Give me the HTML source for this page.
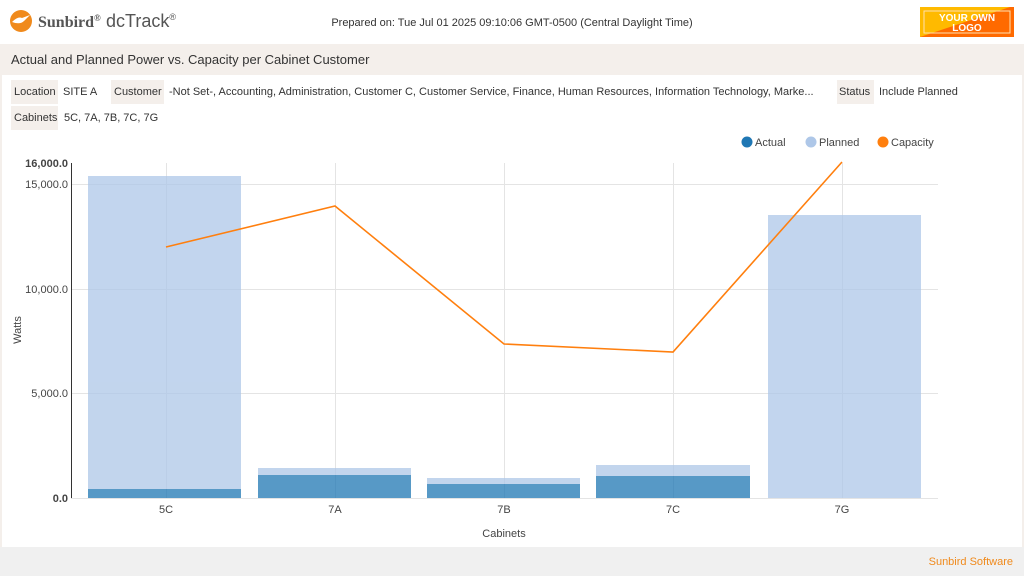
<!DOCTYPE html>
<html><head><meta charset="utf-8"><style>
body{margin:0;width:1024px;height:576px;overflow:hidden;background:#fff;font-family:"Liberation Sans",sans-serif;}
</style></head><body>
<svg width="1024" height="576" viewBox="0 0 1024 576" xmlns="http://www.w3.org/2000/svg" font-family="Liberation Sans, sans-serif">
<rect x="0" y="0" width="1024" height="576" fill="#fff"/>
<!-- header -->
<circle cx="21" cy="21" r="11" fill="#f08a1c"/>
<path d="M12 22 Q18 16 22 18 L30 15 L24 21 Q20 25 12 22Z" fill="#fff"/>
<text x="38" y="27" font-family="Liberation Serif, serif" font-size="16" font-weight="bold" fill="#555">Sunbird<tspan font-size="9" dy="-6">®</tspan></text>
<text x="106" y="27" font-size="18" fill="#555">dcTrack<tspan font-size="9" dy="-7">®</tspan></text>
<text x="512" y="26" text-anchor="middle" font-size="11" fill="#333">Prepared on: Tue Jul 01 2025 09:10:06 GMT-0500 (Central Daylight Time)</text>
<polygon points="920,7 1014,7 1014,37 920,37" fill="#ff6a00"/>
<polygon points="920,7 1010,7 920,37" fill="#ffba00"/>
<rect x="924" y="11" width="86" height="22" fill="none" stroke="#ffe0b0" stroke-width="1"/>
<text x="967" y="21" text-anchor="middle" font-size="10" font-weight="bold" fill="#fff">YOUR OWN</text>
<text x="967" y="31" text-anchor="middle" font-size="10" font-weight="bold" fill="#fff">LOGO</text>
<!-- title band -->
<rect x="0" y="44" width="1024" height="31" fill="#f4efeb"/>
<text x="11" y="64" font-size="13" fill="#333">Actual and Planned Power vs. Capacity per Cabinet Customer</text>
<!-- panel -->
<rect x="0" y="75" width="1024" height="472" fill="#f4efeb"/>
<rect x="2" y="75" width="1020" height="472" fill="#fff"/>
<rect x="0" y="547" width="1024" height="29" fill="#f0f0f0"/>
<text x="1013" y="565" text-anchor="end" font-size="11" fill="#f08a1c">Sunbird Software</text>
<!-- filters -->
<g font-size="11" fill="#333">
<rect x="11" y="80" width="47" height="24" fill="#f4efeb"/><text x="14" y="95">Location</text>
<text x="63" y="95">SITE A</text>
<rect x="111" y="80" width="53" height="24" fill="#f4efeb"/><text x="114" y="95">Customer</text>
<text x="169" y="95">-Not Set-, Accounting, Administration, Customer C, Customer Service, Finance, Human Resources, Information Technology, Marke...</text>
<rect x="837" y="80" width="37" height="24" fill="#f4efeb"/><text x="839" y="95">Status</text>
<text x="879" y="95">Include Planned</text>
<rect x="11" y="106" width="47" height="24" fill="#f4efeb"/><text x="14" y="121">Cabinets</text>
<text x="64" y="121">5C, 7A, 7B, 7C, 7G</text>
</g>
<!-- legend -->
<g font-size="11" fill="#444">
<circle cx="747" cy="142" r="5.5" fill="#1f77b4"/><text x="755" y="146">Actual</text>
<circle cx="811" cy="142" r="5.5" fill="#aec7e8"/><text x="819" y="146">Planned</text>
<circle cx="883" cy="142" r="5.5" fill="#ff7f0e"/><text x="891" y="146">Capacity</text>
</g>
<!-- grid -->
<g stroke="#e4e4e4" stroke-width="1">
<line x1="71" y1="184.5" x2="938" y2="184.5"/>
<line x1="71" y1="289.5" x2="938" y2="289.5"/>
<line x1="71" y1="393.5" x2="938" y2="393.5"/>
<line x1="166.5" y1="163" x2="166.5" y2="498"/>
<line x1="335.5" y1="163" x2="335.5" y2="498"/>
<line x1="504.5" y1="163" x2="504.5" y2="498"/>
<line x1="673.5" y1="163" x2="673.5" y2="498"/>
<line x1="842.5" y1="163" x2="842.5" y2="498"/>
</g>
<!-- bars -->
<g opacity="0.75">
<rect x="88" y="176" width="153" height="322" fill="#aec7e8"/>
<rect x="258" y="468" width="153" height="30" fill="#aec7e8"/>
<rect x="427" y="478" width="153" height="20" fill="#aec7e8"/>
<rect x="596" y="465" width="154" height="33" fill="#aec7e8"/>
<rect x="768" y="215" width="153" height="283" fill="#aec7e8"/>
<rect x="88" y="489" width="153" height="9" fill="#1f77b4"/>
<rect x="258" y="475" width="153" height="23" fill="#1f77b4"/>
<rect x="427" y="484" width="153" height="14" fill="#1f77b4"/>
<rect x="596" y="476" width="154" height="22" fill="#1f77b4"/>
</g>
<!-- axes -->
<line x1="71.5" y1="163" x2="71.5" y2="498" stroke="#333" stroke-width="1"/>
<line x1="71" y1="498.5" x2="938" y2="498.5" stroke="#e4e4e4" stroke-width="1"/>
<g font-size="11" fill="#444" text-anchor="end">
<text x="68" y="167" font-weight="bold">16,000.0</text>
<text x="68" y="188">15,000.0</text>
<text x="68" y="293">10,000.0</text>
<text x="68" y="397">5,000.0</text>
<text x="68" y="502" font-weight="bold">0.0</text>
</g>
<g font-size="11" fill="#444" text-anchor="middle">
<text x="166" y="513">5C</text>
<text x="335" y="513">7A</text>
<text x="504" y="513">7B</text>
<text x="673" y="513">7C</text>
<text x="842" y="513">7G</text>
<text x="504" y="537">Cabinets</text>
<text transform="translate(21,330) rotate(-90)">Watts</text>
</g>
<!-- capacity line -->
<polyline points="166,247 335,206 504,344 673,352 842,162" fill="none" stroke="#ff7f0e" stroke-width="1.6"/>
</svg>
</body></html>
